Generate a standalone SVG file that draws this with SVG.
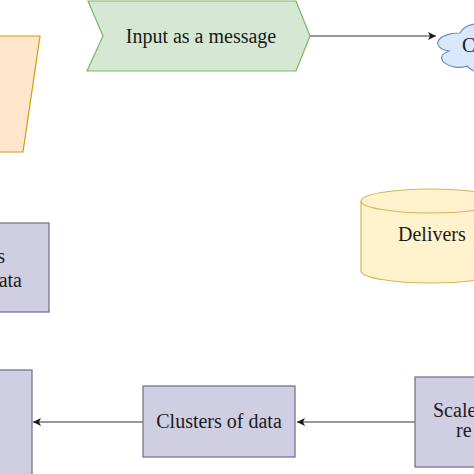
<svg xmlns="http://www.w3.org/2000/svg" width="474" height="474" viewBox="0 0 474 474">
<style>
text{font-family:"Liberation Serif","Times New Roman",serif;font-size:20px;fill:#1a1a1a}
.c{fill:none;stroke:#333;stroke-width:1.2}
.purple{fill:#d0cee2;stroke:#6e6a8e;stroke-width:1.2}
</style>
<defs>
<marker id="ah" markerWidth="10" markerHeight="10" refX="8" refY="5" orient="auto" markerUnits="userSpaceOnUse">
<path d="M0,1 L8,5 L0,9 L2,5 Z" fill="#1a1a1a"/>
</marker>
</defs>
<rect width="474" height="474" fill="#fff"/>
<g id="connectors">
<line class="c" x1="310" y1="36" x2="436" y2="36" marker-end="url(#ah)"/>
<line class="c" x1="415" y1="422" x2="297" y2="422" marker-end="url(#ah)"/>
<line class="c" x1="143" y1="422" x2="33" y2="422" marker-end="url(#ah)"/>
</g>
<g id="trapezoid">
<polygon points="-10,36 40,36 23,152 -10,152" fill="#ffe6cc" stroke="#d79b00" stroke-width="1.2"/>
</g>
<g id="input">
<polygon points="88,1 296,1 310,36 296,71 87,71 103,36" fill="#d5e8d4" stroke="#82b366" stroke-width="1.2"/>
<text x="201" y="43" text-anchor="middle">Input as a message</text>
</g>
<g id="cloud">
<path d="M460,33 C436,33 430,48 449,51 C430,58 452,72 467,66 C478,78 514,78 526,66 C550,66 550,54 535,48 C550,36 526,24 505,30 C490,21 466,21 460,33 Z" fill="#dae8fc" stroke="#6c8ebf" stroke-width="1.2"/>
<text x="462" y="52">C</text>
</g>
<g id="left-box">
<rect class="purple" x="-10" y="223" width="59" height="89"/>
<text x="5" y="263" text-anchor="end">s</text>
<text x="22" y="287" text-anchor="end">ata</text>
</g>
<g id="delivers">
<path d="M361,201 L361,271 A70,12 0 0 0 501,271 L501,201" fill="#fff2cc" stroke="#d6b656" stroke-width="1.2"/>
<ellipse cx="431" cy="201" rx="70" ry="12" fill="#fff2cc" stroke="#d6b656" stroke-width="1.2"/>
<text x="398" y="241">Delivers</text>
</g>
<g id="bottom-left-box">
<rect class="purple" x="-10" y="370" width="42" height="120"/>
</g>
<g id="clusters">
<rect class="purple" x="143" y="386" width="152" height="71"/>
<text x="219" y="428" text-anchor="middle">Clusters of data</text>
</g>
<g id="scale">
<rect class="purple" x="415" y="377" width="80" height="90"/>
<text x="433" y="417">Scale</text>
<text x="456" y="437">re</text>
</g>
</svg>
